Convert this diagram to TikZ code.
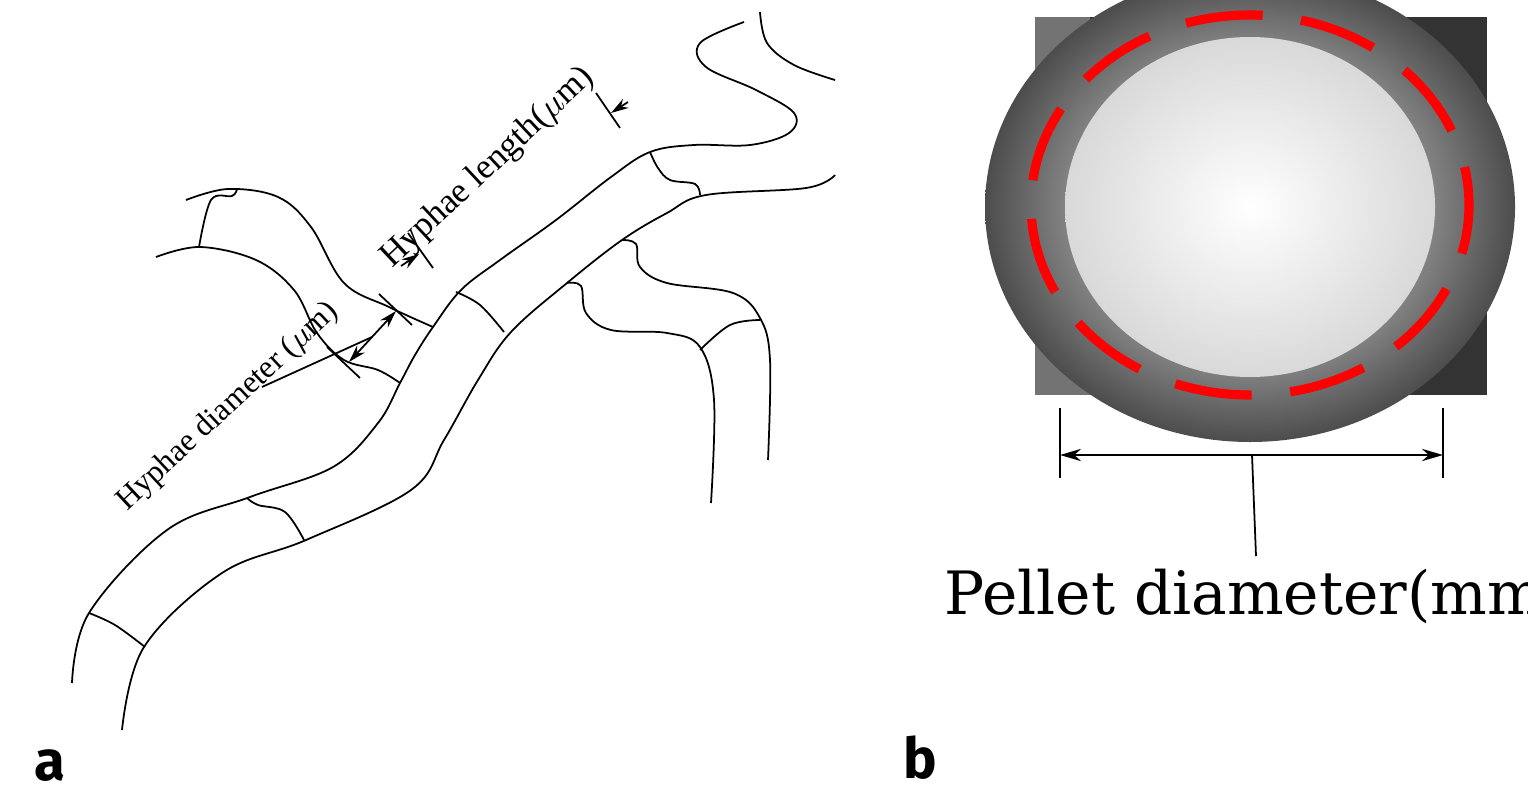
\documentclass[tikz,border=0pt]{standalone}
\usepackage{fontspec}
\setmainfont{Liberation Serif}
\newfontfamily\pelletfont{DejaVu Serif}
\newfontfamily\panelfont{Fira Sans}
\usetikzlibrary{positioning,calc,arrows.meta}

\begin{document}
\begin{tikzpicture}[x=0.01cm, y=-0.01cm,
    hypha/.style={line width=0.5pt, smooth, tension=0.6},
    dim/.style={line width=0.5pt},
    dimarrow/.style={-{Stealth[length=5pt,width=3pt]}, line width=0.5pt},
    panel/.style={font=\panelfont\bfseries\fontsize{16}{18}\selectfont}]
    \useasboundingbox (0,0) rectangle (1528,785);

    % hauptfaden (oben / unten)
    \draw[hypha] plot coordinates {(72,683) (89,613) (167,530) (250,497) (333,467)
        (378,423) (400,383) (415,355) (433,327) (461,290) (500,260) (556,220)
        (611,177) (650,152) (694,145) (750,145) (789,133) (794,113) (756,90)
        (706,67) (700,43) (744,22)};
    \draw[hypha] plot coordinates {(122,730) (144,647) (222,573) (306,540) (411,490)
        (444,440) (478,380) (511,332) (567,283) (622,240) (667,213) (706,195)
        (806,188) (835,175)};
    \draw[hypha] plot coordinates {(760,12) (767,43) (794,65) (835,80)};

    % seitenaeste links
    \draw[hypha] plot coordinates {(186,200) (228,189) (278,197) (311,227)
        (344,283) (389,307) (433,327)};
    \draw[hypha] plot coordinates {(156,257) (200,247) (256,260) (294,290)
        (317,333) (344,360) (378,370) (400,383)};
    \draw[hypha] plot coordinates {(237,189) (232,196) (211,200) (199,247)};

    % seitenaeste rechts
    \draw[hypha] plot coordinates {(567,283) (581,286) (586,313) (611,330)
        (667,333) (700,347) (714,400) (711,503)};
    \draw[hypha] plot coordinates {(622,240) (636,244) (640,267) (667,283)
        (733,293) (760,318) (770,360) (768,460)};
    \draw[hypha] plot coordinates {(700,350) (730,325) (760,320)};

    % querwaende
    \draw[hypha] plot coordinates {(650,152) (658,168) (670,180) (695,184) (700,195)};
    \draw[hypha] plot coordinates {(456,292) (480,305) (504,332)};
    \draw[hypha] plot coordinates {(247,498) (258,505) (285,512) (304,540)};
    \draw[hypha] plot coordinates {(89,613) (115,625) (145,647)};

    % laengenmass
    \draw[dim] (408,233) -- (433,268);
    \draw[dim] (596,93) -- (620,128);
    \draw[dimarrow] (401,266) -- (419,254);
    \draw[dimarrow] (628,102) -- (611,113);
    \node[rotate=43, font=\fontsize{10}{12}\selectfont] (lenlabel) at (488,168) {Hyphae length($\mu$m)};

    % durchmessermass
    \draw[dim] (379,294) -- (412,325);
    \draw[dim] (327,347) -- (360,378);
    \coordinate (dtop) at (396,311);
    \coordinate (dbot) at (349,362);
    \draw[dimarrow, {Stealth[length=5pt,width=3pt]}-{Stealth[length=5pt,width=3pt]}] (dbot) -- (dtop);
    \draw[dim] (372,337) -- (262,387);
    \node[rotate=43, font=\fontsize{9}{11}\selectfont] (diamlabel) at (228,407) {Hyphae diameter ($\mu$m)};

    % pellet-foto (nachgebildet)
    \fill[black!80] (1035,17) rectangle (1487,395);
    \fill[black!55] (1035,17) rectangle (1090,395);
    \shade[inner color=white, outer color=black!70] (1250,207) ellipse (265 and 235);
    \shade[inner color=white, outer color=white!85!black] (1250,207) ellipse (185 and 170);
    \draw[red, line width=2.6pt, dash pattern=on 22pt off 11pt, dash phase=8pt]
        (1250,205) ellipse (219 and 190);

    % pellet-durchmesser
    \draw[dim] (1060,408) -- (1060,478);
    \draw[dim] (1443,408) -- (1443,478);
    \coordinate (pleft) at (1060,455);
    \coordinate (pright) at (1443,455);
    \draw[dimarrow, {Stealth[length=6pt,width=3.5pt]}-{Stealth[length=6pt,width=3.5pt]}] (pleft) -- (pright);
    \node[font=\pelletfont\fontsize{17}{20}\selectfont] (pellet) at (1256,596) {Pellet diameter(mm)};
    \draw[dim] (1252,455) -- (pellet.north);

    % panel-buchstaben
    \node[panel] (pa) at (50,766) {a};
    \node[panel] (pb) at (920,758) {b};
\end{tikzpicture}
\end{document}
